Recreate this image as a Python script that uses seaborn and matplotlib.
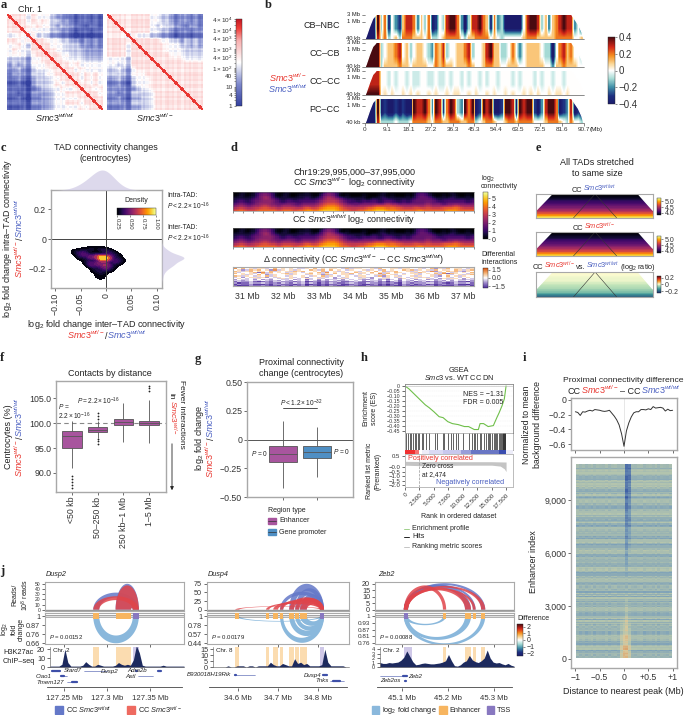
import numpy as np
import pandas as pd
import matplotlib
matplotlib.use("Agg")
import matplotlib.pyplot as plt
import seaborn as sns
from matplotlib.cm import ScalarMappable
from matplotlib.colors import LinearSegmentedColormap, LogNorm, Normalize
from matplotlib.lines import Line2D
from matplotlib.patches import Polygon, Rectangle

W, H = 685, 715
RED, BLUE = "#e8352e", "#4a5fc1"
FRAME = "#a8a8a8"
HET = r"$\mathit{Smc3}^{\mathit{wt/-}}$"
WT = r"$\mathit{Smc3}^{\mathit{wt/wt}}$"

# a: Hi-C upper triangles, one string per row starting at the diagonal
a_wt = ["66665655543322122121", "6665656544332122121", "666565543433221221",
        "66555544332122122", "5645433221011011", "666555443323232",
        "66655544433232", "6665544443333", "666554443333", "66655554444",
        "6665655555", "666565555", "66656565", "6656565", "666565", "66656",
        "6665", "666", "66", "6"]
a_het = ["66666666655443233232", "6666666655443233232", "666666654544332332",
         "66666655443233233", "5655544332122122", "666666554434343",
         "66666655544343", "6666655554444", "666665554444", "66666665555",
         "6666666666", "666666666", "66666666", "6666666", "666666", "66666",
         "6666", "666", "66", "6"]
a_stripes = [.2, -.5, .3, .1, -.2, .4, -.6, .2, -.8, -.9, .3, .1, .4, -.2, .3, -.4, .2, .3, -.5, .1,
             .3, -.3, .2, -.6, .1, .4, -.2, .2, -.5, .3, .1, -.7, .3, -.2, .4, -.3, .2, .1, -.4, .2]
a_ticks = [4e4, 1e4, 4e3, 1e3, 4e2, 1e2, 40, 10, 4, 1]
a_tick_labels = [r"$4\times10^4$", r"$1\times10^4$", r"$4\times10^3$", r"$1\times10^3$",
                 r"$4\times10^2$", r"$1\times10^2$", "40", "10", "4", "1"]

# b: insulation difference tracks, digit 4 = 0, 0 = -0.4, 8 = +0.4
b_names = ["CB–NBC", "CC–CB", "CC–CC", "PC–CC"]
b_tracks = [
    ["000836142157762536014378862037786516230000047887352567877240",
     "000746345366655546334566664355666645434444456665555566666445"],
    ["888834556745345543265734455673445785533464245555433046756443",
     "888835555655455554465655455565445665544555445555544255655544"],
    ["677744343443433443343343443434434344344434344434344344344444",
     "888845454454545445454454554454544545445454454545445455454444"],
    ["000801001010087786287168732868018780018870878810278860127010",
     "000733334333466665466556665566345665445665666644456665436443"],
]
b_gain = [1, 1, 0.55, 1]
b_xticks = [0, 9.1, 18.1, 27.2, 36.3, 45.3, 54.4, 63.5, 72.5, 81.6, 90.7]

# c: points of the density blob
c_x = [-0.058, -0.05, -0.042, -0.035, -0.028, -0.02, -0.01, 0.0, 0.01, 0.02, 0.028,
       -0.045, -0.03, -0.015, 0.005, 0.018, -0.03, -0.015, 0.0, 0.012, -0.02, -0.008,
       0.004, -0.012, -0.004, -0.005, -0.004]
c_y = [-0.09, -0.12, -0.08, -0.15, -0.07, -0.18, -0.07, -0.08, -0.09, -0.11, -0.14,
       -0.1, -0.12, -0.12, -0.12, -0.15, -0.17, -0.16, -0.17, -0.18, -0.21, -0.22,
       -0.2, -0.25, -0.19, -0.13, -0.13]
c_w = [1, 1, 1, 1, 1, 1, 1, 1, 1, 1, 1, 2, 3, 4, 4, 2, 2, 3, 3, 1, 1, 1, 1, 0.8, 2, 5, 4]

# d: connectivity rows, top of the triangle first
d_rows = ["001001233210010000100013321000000000010000000122100000100000",
          "011011344310110011110134431010001000110100010233210010110010",
          "111112345321111111211235543211111011121111111233321111211111",
          "122123344432122122222345554322112122122211212333332122222212",
          "233223444433233323333456665432323333234332323333433323333323",
          "344334455443444334444567776544344445556554444444544434454444",
          "455445566554555545655678887655555667776766555655655566676555",
          "677666777776777677887899998776677889998887777787777778887777"]
d_diff = ["645665746375465566466557465566474566565756445656575466465758",
          "563476756384656465576475756546556465475655767465647566576467",
          "645567284756546654565748565645766575646576556476556475465657",
          "556465753465564655465637455664565456475645655645564756456467",
          "453566463546556456355464535465546435546546545646454556454565",
          "354453534355445345245353445354543345342453545345343454454344",
          "243342123244333234123232334223432234231342434234232343342213",
          "132231112133222123012121223112321123120231323123121232231102"]
d_mb = ["31 Mb", "32 Mb", "33 Mb", "34 Mb", "35 Mb", "36 Mb", "37 Mb"]

# e: stretched TAD rows from top to bottom
e_wt = [4.0, 4.05, 4.1, 4.2, 4.25, 4.3, 4.4, 4.45, 4.55, 4.65, 4.8, 5.0, 5.2]
e_het = [4.0, 4.05, 4.1, 4.15, 4.25, 4.3, 4.35, 4.45, 4.55, 4.65, 4.75, 4.95, 5.15]
e_ratio = [0.01, 0.01, 0.005, 0.0, 0.0, -0.01, -0.02, -0.03, -0.04, -0.06, -0.08, -0.12, -0.18]

# f: whisker low, q1, median, q3, whisker high
f_labels = ["<50 kb", "50–250 kb", "250 kb–1 Mb", "1–5 Mb"]
f_stats = [[91.0, 95.0, 97.5, 98.5, 100.5], [97.0, 98.2, 98.7, 99.2, 100.5],
           [96.3, 99.6, 100.3, 100.8, 104.0], [96.0, 99.7, 100.1, 100.5, 104.7]]
f_flier_cat = ["<50 kb"] * 5 + ["50–250 kb"] * 6 + ["1–5 Mb"] * 3
f_fliers = [87.0, 87.7, 88.3, 88.9, 89.5, 95.9, 96.4, 96.9, 100.8, 101.4, 102.0, 106.5, 107.0, 107.5]

# g
g_types = ["Enhancer", "Gene promoter"]
g_stats = [[-0.42, -0.195, -0.125, -0.055, 0.16], [-0.33, -0.165, -0.11, -0.055, 0.11]]

# h
h_rank = [0, 700, 1400, 2100, 2800, 3500, 4200, 5000, 5900, 6600, 7400, 8200, 9200, 10300,
          11000, 12000, 12700, 13000, 13600, 14400, 15300, 15900, 16300, 16800, 17200, 17500]
h_es = [0, -0.03, -0.07, -0.11, -0.15, -0.19, -0.22, -0.26, -0.31, -0.32, -0.36, -0.38,
        -0.39, -0.41, -0.41, -0.44, -0.44, -0.38, -0.38, -0.41, -0.4, -0.32, -0.27, -0.2, -0.13, 0]
h_hits = [200, 500, 850, 1100, 1300, 1700, 1900, 2200, 2500, 3000, 3200, 3700, 4100, 5200,
          5600, 6500, 6800, 7500, 8000, 8300, 8900, 9100, 10000, 11000, 11600, 12000, 12200,
          12500, 12900, 13100, 13600, 14000, 14300, 14500, 14800, 15000, 15400, 15600, 15800,
          16000, 16200, 16400, 16600, 16800, 16900, 17000, 17100, 17200, 17300, 17400]
h_bar = [9, 9, 9, 8, 6, 5, 5, 4, 4, 4, 4, 3, 3, 3, 3, 3, 2, 2, 2, 1, 1, 1, 1, 1, 1, 1, 1, 0, 0, 5, 5]
h_metric_rank = [0, 2474, 5000, 10000, 15000, 16500, 17200, 17500]
h_metric_hi = [0.62, 0.6, 0.6, 0.58, 0.58, 0.56, 0.55, 0.55]
h_metric_lo = [0.2, 0.15, 0.15, 0.2, 0.2, 0.1, -0.2, -0.5]
h_xticks = [0, 2500, 5000, 7500, 10000, 12500, 15000, 17500]
h_es_ticks = [0, -0.05, -0.1, -0.15, -0.2, -0.25, -0.3, -0.35, -0.4, -0.45]

# i
i_dist = [-1, -.95, -.9, -.85, -.8, -.75, -.7, -.65, -.6, -.55, -.5, -.45, -.4, -.35, -.3, -.25, -.2,
          -.15, -.1, -.05, 0, .05, .1, .15, .2, .25, .3, .35, .4, .45, .5, .55, .6, .65, .7, .75, .8,
          .85, .9, .95, 1]
i_diff = [-.16, -.17, -.21, -.16, -.165, -.15, -.14, -.15, -.13, -.135, -.14, -.15, -.155, -.15,
          -.14, -.18, -.22, -.27, -.34, -.46, -.63, -.42, -.31, -.23, -.175, -.16, -.16, -.13,
          -.13, -.135, -.12, -.13, -.09, -.11, -.105, -.10, -.11, -.15, -.125, -.145, -.14]
i_sections = ["444444444444444442244444444444444",
              "444444444444444442344444444444444",
              "444444444444444443344444444444444",
              "444444444444444443444444444444444",
              "444444444444444444444444444444444",
              "444444444444444444444444444444444",
              "444444444444444445444444444444444",
              "444444444444444566544444444444444"]
i_stripe = [.1, -.1, .2, 0, -.2, .1, .3, -.1, 0, -.3, .2, .1, -.2, .2, 0, -.1, .3, -.2, .1, 0,
            -.1, .2, -.3, .1, .2, -.2, 0, .1, -.1, .3, -.2, 0, .2, -.1, .1, -.3, .2, 0, .1, -.1,
            .2, -.2, .1, .3, -.1, 0, -.2, .2, .1, -.1, .3, -.3, .1, 0, .2, -.1, -.2, .2, .3, .1,
            -.1, .2, 0, .3, -.2, .1, .3, .2, -.1, .3, .2, .1]
i_col_grain = [.2, -.1, .1, -.2, 0, .2, -.2, .1, 0, -.1, .2, -.2, .1, .2, -.1, 0, .1,
               -.2, .2, 0, -.1, .1, .2, -.2, 0, .1, -.1, .2, -.2, .1, 0, -.1, .2]
i_ticks = [0, 3000, 6000, 9000]

# j: genomic panels
j_names = ["Dusp2", "Dusp4", "Zeb2"]
j_chr = ["Chr. 2", "Chr. 8", "Chr. 2"]
j_pvals = ["P = 0.00152", "P = 0.00179", "P = 0.00088"]
j_xticks = [[127.25, 127.3, 127.35], [34.6, 34.7, 34.8], [45.1, 45.2, 45.3]]
j_xlabels = [["127.25 Mb", "127.3 Mb", "127.35 Mb"], ["34.6 Mb", "34.7 Mb", "34.8 Mb"],
             ["45.1 Mb", "45.2 Mb", "45.3 Mb"]]
j_enh = [[(127.284, 127.291), (127.31, 127.328)],
         [(34.593, 34.603), (34.67, 34.678), (34.688, 34.70), (34.705, 34.713),
          (34.728, 34.74), (34.743, 34.753), (34.755, 34.772)],
         [(45.189, 45.196), (45.237, 45.25), (45.254, 45.26), (45.272, 45.281)]]
j_tss = [(127.33, 127.337), (34.805, 34.815), (45.104, 45.113)]
j_blue_arcs = [[(0, 33), (1, 50)], [(3, 52), (4, 75), (5, 62), (6, 45)], [(1, 17), (2, 18), (3, 19)]]
j_red_arcs = [[(0, 26), (1, 47)],
              [(0, 10), (1, 20), (2, 25), (3, 30), (4, 36), (5, 34), (6, 28)],
              [(0, 16), (1, 15), (2, 15.5), (3, 17)]]
j_fold_arcs = [[(0, 3.0)], [(0, 0.6), (3, 2.95), (4, 2.2), (5, 1.6), (6, 1.07)], [(0, 0.85), (1, 2.3), (3, 3.0)]]
j_reads_ticks = [[0, 10, 20, 30, 40, 50], [0, 25, 50, 75], [0, 5, 10, 15, 20]]
j_fold_labels = [["0.66", "0.76", "0.87", "1"], ["0.44", "0.57", "0.78", "1"], ["0.76", "0.81", "0.87", "0.93", "1"]]
j_chip_ticks = [[0, 10, 20], [0, 5, 10, 15], [0, 1, 2, 3, 4]]
j_signal = [[1, 1, 1, 1, 3, 20, 5, 1, 1, 1, 1, 2, 6, 3, 1, 1, 3, 2, 1, 1, 1, 1, 2, 5, 3, 2, 3, 2, 8, 24, 16,
             2, 1, 1, 1, 1, 1, 1, 2, 1, 1, 1, 1, 1, 1, 1],
            [0, 0, 0, 0, 0, 1, 0, 0, 1, 1, 1, 0, 1, 1, 0, 1, 1, 1, 1, 4, 2, 1, 1, 3, 2, 1, 1, 7, 3, 4, 2, 3, 1,
             1, 1, 1, 2, 15, 4, 1, 1, 1, 1, 1, 0, 0],
            [1, .8, .8, 1, .9, 1, 1.1, 1.5, 2.2, 3.6, 2.4, 1.2, .5, .6, .8, .9, .8, .7, .7, .8, .9, 1.1, 1.4, 2.8, 1.4, .3,
             .2, .5, 1.1, 1.4, 2.6, 1.6, 1.2, 1, 1.4, 2, 3.8, 2, 1.1, .9, 1, .7, .5, .8, .4, .2]]
j_diff_ticks = [2, 1, 0, -1, -2]

sns.set_theme(style="white")
plt.rcParams["font.family"] = ["Liberation Sans", "DejaVu Sans"]
plt.rcParams["mathtext.fontset"] = "custom"
plt.rcParams["mathtext.rm"] = "Liberation Sans"
plt.rcParams["mathtext.it"] = "Liberation Sans:italic"
plt.rcParams["mathtext.bf"] = "Liberation Sans:bold"
plt.rcParams["text.color"] = "#222222"
plt.rcParams["axes.labelcolor"] = "#222222"
plt.rcParams["xtick.color"] = "#333333"
plt.rcParams["ytick.color"] = "#333333"
plt.rcParams["xtick.major.size"] = 2
plt.rcParams["ytick.major.size"] = 2
plt.rcParams["xtick.major.width"] = 0.5
plt.rcParams["ytick.major.width"] = 0.5
plt.rcParams["xtick.major.pad"] = 1.5
plt.rcParams["ytick.major.pad"] = 1.5
plt.rcParams["xtick.bottom"] = True
plt.rcParams["ytick.left"] = True

fig = plt.figure(figsize=(W / 100, H / 100), dpi=100, facecolor="white")


def ax_px(x0, y0, x1, y1):
    return fig.add_axes([x0 / W, 1 - y1 / H, (x1 - x0) / W, (y1 - y0) / H])


def T(x, y, s, size=6, ha="center", va="center", **kw):
    return fig.text(x / W, 1 - y / H, s, fontsize=size, ha=ha, va=va, **kw)


def rich(x, y, parts, size=6, rot=0):
    # several colours in one line, centred on x, y; spaces are added by hand
    r = fig.canvas.get_renderer()
    em = size * 100 / 72
    items, sizes = [], []
    for s, c in parts:
        t = T(0, 0, s.strip(), size=size, color=c, rotation=rot, rotation_mode="anchor", ha="left", va="baseline")
        b = t.get_window_extent(r)
        lead = 0.1 * em if s.startswith(" ") else 0
        trail = 0.1 * em if s.endswith(" ") else 0
        items.append((t, lead))
        sizes.append((b.width if rot == 0 else b.height) + lead + trail)
    pos = -sum(sizes) / 2
    off = size * 0.35 * 100 / 72
    for (t, lead), n in zip(items, sizes):
        p = pos + lead
        if rot == 0:
            t.set_position(((x + p) / W, 1 - (y + off) / H))
        elif rot == 90:
            t.set_position(((x + off) / W, 1 - (y - p) / H))
        else:
            t.set_position(((x - off) / W, 1 - (y + p) / H))
        pos += n


def R(x0, y0, x1, y1, color, **kw):
    fig.add_artist(Rectangle((x0 / W, 1 - y1 / H), (x1 - x0) / W, (y1 - y0) / H, color=color,
                             transform=fig.transFigure, **kw))


def L(x0, y0, x1, y1, color="#333333", lw=0.6, **kw):
    fig.add_artist(Line2D([x0 / W, x1 / W], [1 - y0 / H, 1 - y1 / H], color=color, lw=lw,
                          transform=fig.transFigure, **kw))


def grid(rows):
    n = min(len(r) for r in rows)
    return np.array([[int(c) for c in r[:n]] for r in rows], float)


def blur(m, ky, kx, by, bx):
    # repeat cells, then a box filter so the read-off cells do not show as blocks
    out = np.kron(m, np.ones((ky, kx)))
    for axis, b in ((0, by), (1, bx)):
        pad = [(b // 2, b // 2) if a == axis else (0, 0) for a in (0, 1)]
        p = np.pad(out, pad, mode="edge")
        out = np.apply_along_axis(lambda v: np.convolve(v, np.ones(b) / b, mode="valid"), axis, p)
    return out


def frame(ax, color=FRAME, lw=1.0):
    for s in ax.spines.values():
        s.set_visible(True)
        s.set_color(color)
        s.set_linewidth(lw)


def heat(ax, data, **kw):
    sns.heatmap(data, ax=ax, cbar=False, xticklabels=False, yticklabels=False, **kw)
    ax.tick_params(length=0)


def cbar(box, cmap, norm, ticks, labels=None, size=5, orientation="vertical"):
    cax = ax_px(*box)
    cb = fig.colorbar(ScalarMappable(norm=norm, cmap=cmap), cax=cax, orientation=orientation)
    cb.set_ticks(ticks)
    if labels is not None:
        cb.set_ticklabels(labels)
    cb.ax.tick_params(labelsize=size, length=1.5, width=0.4, pad=1)
    cb.outline.set_linewidth(0.3)
    return cb


for letter, x, y in [("a", 4, 5), ("b", 268, 5), ("c", 3, 148), ("d", 234, 148), ("e", 538, 148), ("f", 2, 358),
                     ("g", 198, 359), ("h", 364, 358), ("i", 524, 358), ("j", 2, 571)]:
    T(x, y, letter, size=9, fontweight="bold", family="Liberation Serif")

# panel a
a_cmap = LinearSegmentedColormap.from_list("hic", [(0, "#33409f"), (0.25, "#7d88cc"), (0.5, "#ffffff"),
                                                   (0.75, "#f8b0b0"), (0.9, "#ee3b36"), (1, "#c01824")])
a_norm = LogNorm(1, 4e4)
a_s = np.repeat(a_stripes, 2)
for rows, box, name in [(a_wt, (7, 14, 103, 110), WT), (a_het, (107, 14, 203, 110), HET)]:
    mat = np.zeros((20, 20))
    for i, r in enumerate(rows):
        for k, c in enumerate(r):
            mat[i, i + k] = mat[i + k, i] = int(c)
    fine = blur(mat, 4, 4, 3, 3) + np.add.outer(a_s, a_s) * 0.6
    for off in (-1, 0, 1):
        idx = np.arange(80 - abs(off))
        fine[idx + max(-off, 0), idx + max(off, 0)] = 9.1
    ax = ax_px(*box)
    heat(ax, 10 ** (np.clip(fine, 0, 10) / 10 * np.log10(4e4)), cmap=a_cmap, norm=a_norm)
    T((box[0] + box[2]) / 2, 118, name, size=6.5)
T(30, 9, "Chr. 1", size=6.5)
cb = cbar((236, 19, 242, 106), a_cmap, a_norm, a_ticks, a_tick_labels, size=4.6)
cb.ax.yaxis.set_ticks_position("left")
cb.ax.yaxis.set_label_position("left")
cb.ax.tick_params(which="minor", length=1.5, width=0.4, color="#555555")
for lab in cb.ax.get_yticklabels():
    lab.set_ha("right")

# panel b
b_cmap = LinearSegmentedColormap.from_list("diff", [(0, "#1b1b6b"), (0.12, "#1d2f80"), (0.25, "#3f8fa8"), (0.38, "#a8dcd6"),
                                                    (0.5, "#ffffff"), (0.6, "#fbd694"), (0.72, "#f59020"),
                                                    (0.85, "#d5281a"), (1, "#4a0a10")])
for i, rows in enumerate(b_tracks):
    y0 = 15 + i * 28
    ax = ax_px(365, y0, 584, y0 + 24)
    vals = (grid([rows[0], rows[0], rows[0], rows[1]]) - 4) / 10
    vals[:, 4:] *= b_gain[i]
    m = blur(vals, 6, 4, 9, 3)
    heat(ax, m, cmap=b_cmap, vmin=-0.4, vmax=0.4)
    ax.add_patch(Polygon([(0, 1), (0.05, 1), (0.035, 0.85), (0.02, 0.5), (0.005, 0.1), (0, 0)], color="white",
                         transform=ax.transAxes, clip_on=False))
    ax.add_patch(Polygon([(1, 1), (0.945, 1), (0.975, 0.6), (0.99, 0.3), (1, 0.0)], color="white",
                         transform=ax.transAxes, clip_on=False))
    T(340, y0 + 11, b_names[i], size=6.5, ha="right")
    for lab, dy in [("3 Mb", 0), ("1 Mb", 6.5), ("40 kb", 24)]:
        T(360, y0 + dy, lab, size=4.2, ha="right")
    L(362, y0, 365, y0, lw=0.4)
    L(362, y0 + 6.5, 365, y0 + 6.5, lw=0.4)
    L(362, y0 + 24, 584, y0 + 24, lw=0.4)
    if i == 3:
        ax.set_xticks([v / 90.7 * m.shape[1] for v in b_xticks])
        ax.set_xticklabels(["0" if v == 0 else str(v) for v in b_xticks], fontsize=4.6, rotation=0)
        ax.tick_params(axis="x", length=2, width=0.4, pad=1)
T(596, 130, "(Mb)", size=4.6)
cb = cbar((608, 37, 615, 104), b_cmap, Normalize(-0.4, 0.4), [-0.4, -0.2, 0, 0.2, 0.4], ["−0.4", "−0.2", "0", "0.2", "0.4"], size=7)
rich(288, 79, [(HET, RED)], size=6.5)
rich(288, 90, [(WT, BLUE)], size=6.5)

# panel c
c_df = pd.DataFrame({"x": c_x, "y": c_y, "w": c_w})
ax = ax_px(51, 190, 162, 288)
sns.kdeplot(data=c_df, x="x", y="y", weights="w", fill=True, cmap="inferno", levels=12, thresh=0.03,
            bw_adjust=0.6, gridsize=200, ax=ax)
ax.set_xlim(-0.108, 0.11)
ax.set_ylim(-0.327, 0.327)
ax.axhline(0, color="#444444", lw=0.7)
ax.axvline(0, color="#444444", lw=0.7)
ax.set_xlabel("")
ax.set_ylabel("")
ax.set_xticks([-0.1, -0.05, 0, 0.05, 0.1])
ax.set_xticklabels(["−0.10", "−0.05", "0", "0.05", "0.10"], rotation=90, fontsize=6.3)
ax.set_yticks([-0.2, 0, 0.2])
ax.set_yticklabels(["−0.2", "0", "0.2"], fontsize=6.3)
frame(ax)
top = ax_px(51, 169, 162, 190)
sns.kdeplot(data=c_df, x="x", weights="w", fill=True, color="#d5d0e8", alpha=0.8, lw=0, bw_adjust=1.7, ax=top)
top.set_xlim(-0.108, 0.11)
top.axis("off")
side = ax_px(162, 190, 185, 288)
sns.kdeplot(data=c_df, y="y", weights="w", fill=True, color="#d5d0e8", alpha=0.8, lw=0, bw_adjust=0.9, ax=side)
side.set_ylim(-0.327, 0.327)
side.axis("off")
cb = cbar((117, 208, 156, 215), plt.get_cmap("inferno"), Normalize(0.25, 1), [0.25, 0.5, 0.75, 1],
          ["0.25", "0.50", "0.75", "1.00"], size=4.3, orientation="horizontal")
plt.setp(cb.ax.get_xticklabels(), rotation=-90)
T(136, 201, "Density", size=5)
T(106, 153, "TAD connectivity changes\n(centrocytes)", size=6.5, linespacing=1.15)
T(167, 202, "Intra-TAD:\n" + r"$P<2.2\times10^{-16}$", size=4.8, ha="left", linespacing=1.3)
T(167, 234, "Inter-TAD:\n" + r"$P<2.2\times10^{-16}$", size=4.8, ha="left", linespacing=1.3)
T(8, 238, r"log$_2$ fold change intra–TAD connectivity", size=6.5, rotation=90)
rich(20, 238, [(HET, RED), ("/", "#222222"), (WT, BLUE)], size=6.5, rot=90)
T(107, 324, r"log$_2$ fold change inter–TAD connectivity", size=6.5)
rich(107, 336, [(HET, RED), ("/", "#222222"), (WT, BLUE)], size=6.5)

# panel d
d_cmap = plt.get_cmap("inferno")
d_mat = blur(grid(d_rows) * 0.55, 2, 2, 3, 3)
diff_cmap = LinearSegmentedColormap.from_list("dd", ["#4a2a9a", "#9a85c8", "#ffffff", "#f4b070", "#d9540f"])
for box in [(233, 192, 474, 211), (233, 228, 474, 247)]:
    ax = ax_px(*box)
    heat(ax, d_mat, cmap=d_cmap, vmin=0, vmax=5.8)
    ax.set_xticks(np.arange(0, d_mat.shape[1] + 1, 5))
    ax.tick_params(axis="x", length=1.5, width=0.4, labelbottom=False)
    frame(ax, "#777777", 0.4)
ax = ax_px(233, 267, 474, 286)
diff = grid(d_diff)
speck = np.ravel(np.column_stack([diff, diff[:, ::-1]]), order="C").reshape(-1, diff.shape[1])
heat(ax, (speck - 5) / 3, cmap=diff_cmap, vmin=-1.5, vmax=1.5)
frame(ax, FRAME, 0.8)
m = diff.shape[1]
ax.set_xticks([(14 + 36 * i) / 241 * m for i in range(7)])
ax.set_xticklabels(d_mb, fontsize=6.3)
ax.tick_params(axis="x", length=0, pad=4)
T(354, 172, "Chr19:29,995,000–37,995,000", size=6.5)
T(354, 183, "CC " + HET + r" log$_2$ connectivity", size=6.5)
T(354, 220, "CC " + WT + r" log$_2$ connectivity", size=6.5)
T(354, 260, r"$\Delta$ connectivity (CC " + HET + " – CC " + WT + ")", size=6.5)
T(481, 179, r"log$_2$", size=5, ha="left")
T(481, 187, "connectivity", size=5, ha="left")
cbar((483, 192, 488, 239), d_cmap, Normalize(0, 5.8), [0, 1, 2, 3, 4, 5], size=5)
T(481, 254, "Differential", size=5, ha="left")
T(481, 262, "interactions", size=5, ha="left")
cbar((483, 268, 488, 288), diff_cmap, Normalize(-1.8, 1.8), [-1.5, 0, 1.5], ["−1.5", "0.0", "1.5"], size=5)

# panel e
ratio_cmap = LinearSegmentedColormap.from_list("rt", [(0, "#1b2a6b"), (0.25, "#3f9a9a"), (0.45, "#bfe3b8"), (0.52, "#fbfbd0"),
                                                      (0.7, "#f59020"), (0.85, "#d5281a"), (1, "#4a0a10")])
T(597, 168, "All TADs stretched\nto same size", size=6.5, linespacing=1.2)
e_panels = [(e_wt, (536, 194, 653, 218), 4.0, 5.3, d_cmap), (e_het, (536, 232, 653, 256), 4.0, 5.3, d_cmap),
            (e_ratio, (536, 272, 653, 297), -0.25, 0.25, ratio_cmap)]
for vals, box, lo, hi, cm in e_panels:
    ax = ax_px(*box)
    heat(ax, blur(np.array(vals).reshape(-1, 1), 3, 1, 3, 1), cmap=cm, vmin=lo, vmax=hi)
    ax.add_patch(Polygon([(0, 1), (0.135, 1), (0, 0.32)], color="white", transform=ax.transAxes))
    ax.add_patch(Polygon([(1, 1), (0.875, 1), (1, 0.32)], color="white", transform=ax.transAxes))
    ax.add_line(Line2D([0.32, 0.505, 0.69], [0, 1, 0], color="#333333", lw=0.4, transform=ax.transAxes))
    frame(ax, FRAME, 0.8)
    if lo == 4.0:
        cbar((657, box[1] + 4, 661, box[1] + 21), d_cmap, Normalize(3.8, 5.3), [4, 4.5, 5], ["4.0", "4.5", "5.0"], size=5)
    else:
        cbar((657, box[1] + 4, 661, box[1] + 21), ratio_cmap, Normalize(-0.25, 0.25), [-0.2, 0, 0.2], ["−0.2", "0", "0.2"], size=5)
rich(594, 189, [("CC ", "#222222"), (WT, BLUE)], size=5.3)
rich(594, 227, [("CC ", "#222222"), (HET, RED)], size=5.3)
rich(594, 266, [("CC ", "#222222"), (HET, RED), (" vs. ", "#222222"), (WT, BLUE), (r" (log$_2$ ratio)", "#222222")], size=5.3)

# panel f
PURPLE, STEEL = "#a8559e", "#4f8fc4"
f_df = pd.DataFrame({"dist": np.repeat(f_labels, 5), "val": np.ravel(f_stats)})
ax = ax_px(56, 381, 166, 492)
sns.boxplot(data=f_df, x="dist", y="val", order=f_labels, color=PURPLE, whis=(0, 100), width=0.75, showcaps=False,
            showfliers=False, linecolor="#555555", linewidth=0.6, saturation=1, ax=ax)
sns.stripplot(x=f_flier_cat, y=f_fliers, order=f_labels, jitter=False, color="#222222", size=1.3, ax=ax)
ax.axhline(100, color="#888888", lw=0.8, ls=(0, (4, 3)), zorder=0)
ax.set_xlim(-0.62, 3.66)
ax.set_ylim(86.2, 108.4)
ax.set_xlabel("")
ax.set_ylabel("")
ax.set_yticks([90, 95, 100, 105])
ax.set_yticklabels(["90.0", "95.0", "100.0", "105.0"], fontsize=6.3)
ax.set_xticks(range(4))
ax.set_xticklabels(f_labels, rotation=90, fontsize=6.3)
frame(ax)
T(110, 374, "Contacts by distance", size=6.5)
T(58, 406.5, "$P$ =", size=4.8, ha="left")
T(58, 416, r"$2.2\times10^{-16}$", size=4.8, ha="left")
T(98, 401, r"$P=2.2\times10^{-16}$", size=4.8)
T(9, 437, "Centrocytes (%)", size=6.5, rotation=90)
rich(20, 437, [(HET, RED), ("/", "#222222"), (WT, BLUE)], size=6.5, rot=90)
T(182, 414, "Fewer interactions", size=6, rotation=-90)
rich(172, 414, [("in ", "#222222"), (HET, RED)], size=6, rot=-90)
ax.annotate("", xy=(172 / W, 1 - 493 / H), xytext=(172 / W, 1 - 441 / H), xycoords="figure fraction",
            arrowprops=dict(arrowstyle="-|>", lw=0.6, color="#222222", mutation_scale=5))

# panel g
g_df = pd.DataFrame({"kind": np.repeat(g_types, 5), "val": np.ravel(g_stats), "all": ""})
ax = ax_px(247, 382, 353, 497)
sns.boxplot(data=g_df, x="all", y="val", hue="kind", hue_order=g_types, palette=[PURPLE, STEEL], whis=(0, 100),
            width=0.66, gap=0.2, showcaps=False, showfliers=False, linecolor="#555555", linewidth=0.6, saturation=1,
            legend=False, ax=ax)
ax.axhline(0, color="#555555", lw=0.7, zorder=0)
ax.set_xlim(-0.5, 0.5)
ax.set_ylim(-0.5, 0.5)
ax.set_xlabel("")
ax.set_ylabel("")
ax.set_xticks([-0.165, 0.165])
ax.set_xticklabels([])
ax.set_yticks([-0.5, -0.25, 0, 0.25, 0.5])
ax.set_yticklabels(["−0.50", "−0.25", "0", "0.25", "0.50"], fontsize=6.3)
ax.plot([-0.165, 0.165], [0.27, 0.27], color="#333333", lw=0.6)
frame(ax)
T(301, 368, "Proximal connectivity\nchange (centrocytes)", size=6.5, linespacing=1.15)
T(301, 403, r"$P<1.2\times10^{-32}$", size=4.8)
T(260, 453, "$P$ = 0", size=4.8)
T(342, 452, "$P$ = 0", size=4.8)
T(200, 438, r"log$_2$ fold change", size=6.5, rotation=90)
rich(211, 438, [(HET, RED), ("/", "#222222"), (WT, BLUE)], size=6.5, rot=90)
T(268, 510, "Region type", size=5, ha="left")
R(268, 518, 276, 524, PURPLE)
L(268, 521, 276, 521, lw=0.5)
T(279, 521, "Enhancer", size=5, ha="left")
R(268, 529, 276, 535, STEEL)
L(268, 532, 276, 532, lw=0.5)
T(279, 532, "Gene promoter", size=5, ha="left")

# panel h
ax = ax_px(405, 384, 513, 433)
sns.lineplot(x=h_rank, y=h_es, color="#6fbf4a", lw=0.8, ax=ax)
ax.set_xlim(0, 18700)
ax.set_ylim(-0.475, 0.02)
ax.set_xticks([])
ax.set_yticks(h_es_ticks)
ax.set_yticklabels(["0", "−0.05", "−0.10", "−0.15", "−0.20", "−0.25", "−0.30", "−0.35", "−0.40", "−0.45"], fontsize=3.8)
ax.axhline(0, color="#bbbbbb", lw=0.4)
ax.grid(True, color="#eeeeee", lw=0.3, ls="--")
frame(ax, "#888888", 0.6)
ax2 = ax_px(405, 433, 513, 450)
ax2.vlines(h_hits, 0, 1, color="#222222", lw=0.5)
ax2.set_xlim(0, 18700)
ax2.set_ylim(0, 1)
ax2.set_xticks([])
ax2.set_yticks([])
frame(ax2, "#888888", 0.4)
ax3 = ax_px(405, 450, 513, 454)
bar_cmap = LinearSegmentedColormap.from_list("rk", ["#3a4db0", "#c8c8ee", "#ffffff", "#f03030"])
heat(ax3, np.array(h_bar, float).reshape(1, -1), cmap=bar_cmap, vmin=0, vmax=9)
ax4 = ax_px(405, 454, 513, 487)
ax4.fill_between(h_metric_rank, h_metric_lo, h_metric_hi, color="#c4c4c4", lw=0)
ax4.axvline(2474, color="#999999", lw=0.5, ls="--")
ax4.set_xlim(0, 18700)
ax4.set_ylim(-2.18, 1.42)
ax4.set_xticks(h_xticks)
ax4.set_xticklabels([f"{v:,}" for v in h_xticks], rotation=45, ha="right", rotation_mode="anchor", fontsize=4.5)
ax4.set_yticks([1.24, 0, -0.5, -1, -1.5, -2])
ax4.set_yticklabels(["0.5", "−0.0", "−0.5", "−1.0", "−1.5", "−2.0"], fontsize=4.3)
frame(ax4, "#bbbbbb", 0.7)
T(459, 370, "GSEA", size=5.3)
T(459, 378, r"$\mathit{Smc3}$ vs. WT CC DN", size=5.3)
T(463, 394, "NES = −1.31", size=5, ha="left")
T(463, 402, "FDR = 0.005", size=5, ha="left")
T(370, 408, "Enrichment\nscore (ES)", size=5, rotation=90, linespacing=1.2)
T(374, 471, "Ranked list metric\n(Preranked)", size=5, rotation=90, linespacing=1.2)
T(408, 458, "Positively correlated", size=5.2, color=RED, ha="left")
T(422, 467, "Zero cross", size=4.8, ha="left")
T(422, 475, "at 2,474", size=4.8, ha="left")
T(504, 482, "Negatively correlated", size=5.2, color=BLUE, ha="right")
T(459, 517, "Rank in ordered dataset", size=5)
for y, c, name in [(529, "#9fd08a", "Enrichment profile"), (537, "#222222", "Hits"), (547, "#c4c4c4", "Ranking metric scores")]:
    L(404, y, 409, y, color=c, lw=0.7)
    T(412, y, name, size=5, ha="left")

# panel i
ax = ax_px(571, 398, 677, 450)
sns.lineplot(x=i_dist, y=i_diff, color="#333333", lw=0.7, ax=ax)
ax.axvline(0, color="#dddddd", lw=0.5, zorder=0)
ax.set_xlim(-1.09, 1.09)
ax.set_ylim(-0.68, 0.027)
ax.set_xticks([-1, -0.5, 0, 0.5, 1])
ax.set_xticklabels([])
ax.set_yticks([0, -0.2, -0.4, -0.6])
ax.set_yticklabels(["0", "−0.2", "−0.4", "−0.6"], fontsize=6.3)
frame(ax)
T(623, 381, "Proximal connectivity difference", size=6.1)
rich(624, 391, [("CC ", "#222222"), (HET, RED), (" – CC ", "#222222"), (WT, BLUE)], size=6.5)
T(532, 425, "Normalized to mean\nbackground difference", size=6.3, rotation=90, linespacing=1.2)

i_cmap = LinearSegmentedColormap.from_list("ii", [(0, "#2a4a9e"), (0.35, "#7fa2b8"), (0.5, "#b3c4ae"), (0.65, "#d8c89c"), (1, "#e06a20")])
i_prof = blur(grid(i_sections), 20, 1, 31, 1)
n_rows = i_prof.shape[0]
s = np.array(i_stripe)
fine_s = np.resize(np.ravel(np.column_stack([s, s[::-1], np.roll(s, 7)])), n_rows)
grain_s = np.resize(np.ravel(np.column_stack([np.roll(s, 3), s])), n_rows)
i_mat = i_prof + fine_s.reshape(-1, 1) * 1.6 + np.outer(grain_s, i_col_grain) * 3.5
outer = ax_px(571, 457, 677, 668)
outer.set_xlim(-1.09, 1.09)
# 659 px is index 0, 53 px per 3,000
outer.set_ylim((659 - 668) * 3000 / 53, (659 - 457) * 3000 / 53)
outer.set_xticks([-1, -0.5, 0, 0.5, 1])
outer.set_xticklabels(["−1", "−0.5", "0", "+0.5", "+1"], fontsize=6.3)
outer.set_yticks(i_ticks)
outer.set_yticklabels(["0", "3,000", "6,000", "9,000"], fontsize=6.3)
outer.grid(False)
frame(outer)
inner = ax_px(576, 464, 672, 658)
heat(inner, i_mat, cmap=i_cmap, vmin=1, vmax=8)
T(623, 692, "Distance to nearest peak (Mb)", size=6.5)
T(533, 562, "Enhancer index", size=6.5, rotation=90)

# panel j
j_scale = [(127.25, 64, 127.35, 150), (34.6, 238, 34.8, 318), (45.1, 402, 45.3, 494)]
j_boxes = [(45, 184, 50), (207, 349, 213), (375, 514, 380)]
READ_BLUE, READ_RED, FOLD_BLUE = "#6478c8", "#e0444a", "#8ab8dc"
ORANGE, TSS_C = "#f7b560", "#8878c0"
j_tops = [50, 75, 20]


def ribbon(ax, a, b, h, color, base=0.0, sign=1, alpha=0.85):
    # a and b are (left, right) anchors of the two ends
    t = np.linspace(0, np.pi, 60)
    cx_o, rx_o = (a[0] + b[1]) / 2, (b[1] - a[0]) / 2
    cx_i, rx_i = (a[1] + b[0]) / 2, (b[0] - a[1]) / 2
    h_in = h * rx_i / rx_o * 0.97
    xs = np.r_[cx_o - rx_o * np.cos(t), cx_i + rx_i * np.cos(t)]
    ys = np.r_[base + sign * h * np.sin(t), base + sign * h_in * np.sin(t)]
    ax.fill(xs, ys, color=color, lw=0, alpha=alpha)


for p in range(3):
    v0, x0, v1, x1 = j_scale[p]
    to_val = lambda px: v0 + (px - x0) * (v1 - v0) / (x1 - x0)
    left, right, chip_left = j_boxes[p]
    lim = (to_val(left), to_val(right))
    enh, tss = j_enh[p], j_tss[p]

    ax = ax_px(left, 582, right, 611)
    top_v = j_tops[p]
    ax.set_xlim(*lim)
    ax.set_ylim(-top_v * 0.05, top_v * 1.07)
    ax.axhline(0, color="#999999", lw=1.0)
    for k, h in j_blue_arcs[p]:
        ribbon(ax, enh[k], tss, h, READ_BLUE)
    for k, h in j_red_arcs[p]:
        ribbon(ax, enh[k], tss, h, READ_RED)
    ax.set_xticks([])
    ax.set_yticks(j_reads_ticks[p])
    ax.set_yticklabels(j_reads_ticks[p], fontsize=3.6 if p == 0 else 5.2)
    frame(ax, "#aaaaaa", 0.8)
    T(left + 11, 575, j_names[p], size=5.2, style="italic")

    ax = ax_px(left, 613, right, 644)
    ax.set_xlim(*lim)
    n = len(j_fold_labels[p]) - 1
    ax.set_ylim(-0.08, 3.35)
    ax.axhspan(2.88, 3.12, color="#dddddd", lw=0)
    ax.axhline(3.12, color="#777777", lw=0.4)
    ax.axhline(2.88, color="#777777", lw=0.4)
    for k, d in j_fold_arcs[p]:
        ribbon(ax, enh[k], tss, d, FOLD_BLUE, base=3, sign=-1, alpha=1)
    for a, b in enh:
        ax.add_patch(Rectangle((a, 2.65), b - a, 0.7, color=ORANGE, lw=0, zorder=3))
    ax.add_patch(Rectangle((tss[0], 2.65), tss[1] - tss[0], 0.7, color=TSS_C, lw=0, zorder=3))
    ax.set_xticks(j_xticks[p])
    ax.set_xticklabels([])
    ax.set_yticks(np.linspace(0, 3, n + 1))
    ax.set_yticklabels(j_fold_labels[p], fontsize=5.2 if p < 2 else 4.6)
    frame(ax, "#aaaaaa", 0.8)
    T(left + 4, 637, j_pvals[p].replace("P", "$P$"), size=4.3, ha="left")

    ax = ax_px(chip_left, 647, right, 667)
    sig = j_signal[p]
    xs = np.linspace(to_val(chip_left), lim[1], len(sig))
    for a, b in enh:
        ax.axvspan(a, b, color="#fbdcb0", lw=0, zorder=0)
    ax.axvspan(tss[0], tss[1] + (tss[1] - tss[0]) * (1 if p == 2 else 0), color="#cfc8e8", lw=0, zorder=0)
    ax.fill_between(xs, 0, sig, color="#1d2a5e", lw=0)
    ax.set_xlim(to_val(chip_left), lim[1])
    ax.set_ylim(0, j_chip_ticks[p][-1] * 1.12)
    ax.set_xticks([])
    ax.set_yticks(j_chip_ticks[p])
    ax.set_yticklabels(j_chip_ticks[p], fontsize=5.2 if p < 2 else 4)
    sns.despine(ax=ax, top=True, right=True, bottom=False)
    for s_name in ("left", "bottom"):
        ax.spines[s_name].set_linewidth(0.4)
        ax.spines[s_name].set_color("#555555")
    ax.set_facecolor("none")
    T(chip_left + 3, 650, j_chr[p], size=4.5, ha="left")

    ax = ax_px(left + 2, 687, right - 2, 688)
    ax.set_xlim(to_val(left + 2), to_val(right - 2))
    ax.set_ylim(0, 1)
    for s_name in ("left", "right", "bottom"):
        ax.spines[s_name].set_visible(False)
    ax.spines["top"].set_linewidth(0.6)
    ax.spines["top"].set_color("#444444")
    ax.set_yticks([])
    ax.set_xticks(j_xticks[p])
    ax.set_xticklabels(j_xlabels[p], fontsize=5.6)
    ax.tick_params(axis="x", length=2, pad=3)

T(21, 595, "Reads/\n" + r"$10^8$ reads", size=5, rotation=90, linespacing=1.2)
T(12, 629, r"log$_2$" + "\nfold\nchange", size=5, rotation=90, linespacing=1.1)
T(19, 657, "H3K27ac\nChIP–seq", size=5.3, linespacing=1.3)

GENE = "#3d4fa8"
for x0, x1, y in [(84, 107, 671), (61, 67, 676), (67, 77, 682), (138, 153, 676), (234, 255, 675), (330, 344, 681), (380, 403, 676)]:
    L(x0, y, x1, y, color=GENE, lw=0.4)
for x0, x1, y in [(52, 60, 671), (61, 64, 676), (72, 77, 682), (136, 137, 671), (158, 161, 671), (235, 236, 675),
                  (323, 327, 675), (333, 340, 681), (403, 407, 676), (405, 406, 681)]:
    L(x0, y, x1, y, color=GENE, lw=1.6)
for x, y, s_text in [(82, 671, "Stard7"), (52, 676, "Ciao1"), (64, 682, "Tmem127"), (118, 671, "Dusp2"), (147, 671, "Adra2b"),
                     (136, 676, "Astl"), (231, 675, "B930018H19Rik"), (321, 675, "Dusp4"), (329, 681, "Tnks"),
                     (408, 676, "Zeb2")]:
    T(x, y, s_text, size=4.4, style="italic", ha="right" if s_text != "Zeb2" else "left")
T(401, 681, "Zeb2os", size=4.4, style="italic", ha="right")

cbar((517, 624, 523, 656), b_cmap, Normalize(-2.4, 2.4), j_diff_ticks, ["2", "1", "0", "−1", "−2"], size=5)
T(517, 619, "Difference", size=5, ha="left")

R(55, 706, 63, 714, READ_BLUE)
T(66, 710, "CC " + WT, size=5.3, ha="left")
R(127, 706, 135, 714, "#ee6a60")
T(138, 710, "CC " + HET, size=5.3, ha="left")
R(372, 706, 379, 714, FOLD_BLUE)
T(382, 710, r"log$_2$ fold change", size=5.3, ha="left")
R(439, 706, 447, 714, ORANGE)
T(449, 710, "Enhancer", size=5.3, ha="left")
R(487, 706, 494, 714, TSS_C)
T(497, 710, "TSS", size=5.3, ha="left")

fig.savefig("out.png", dpi=100)
